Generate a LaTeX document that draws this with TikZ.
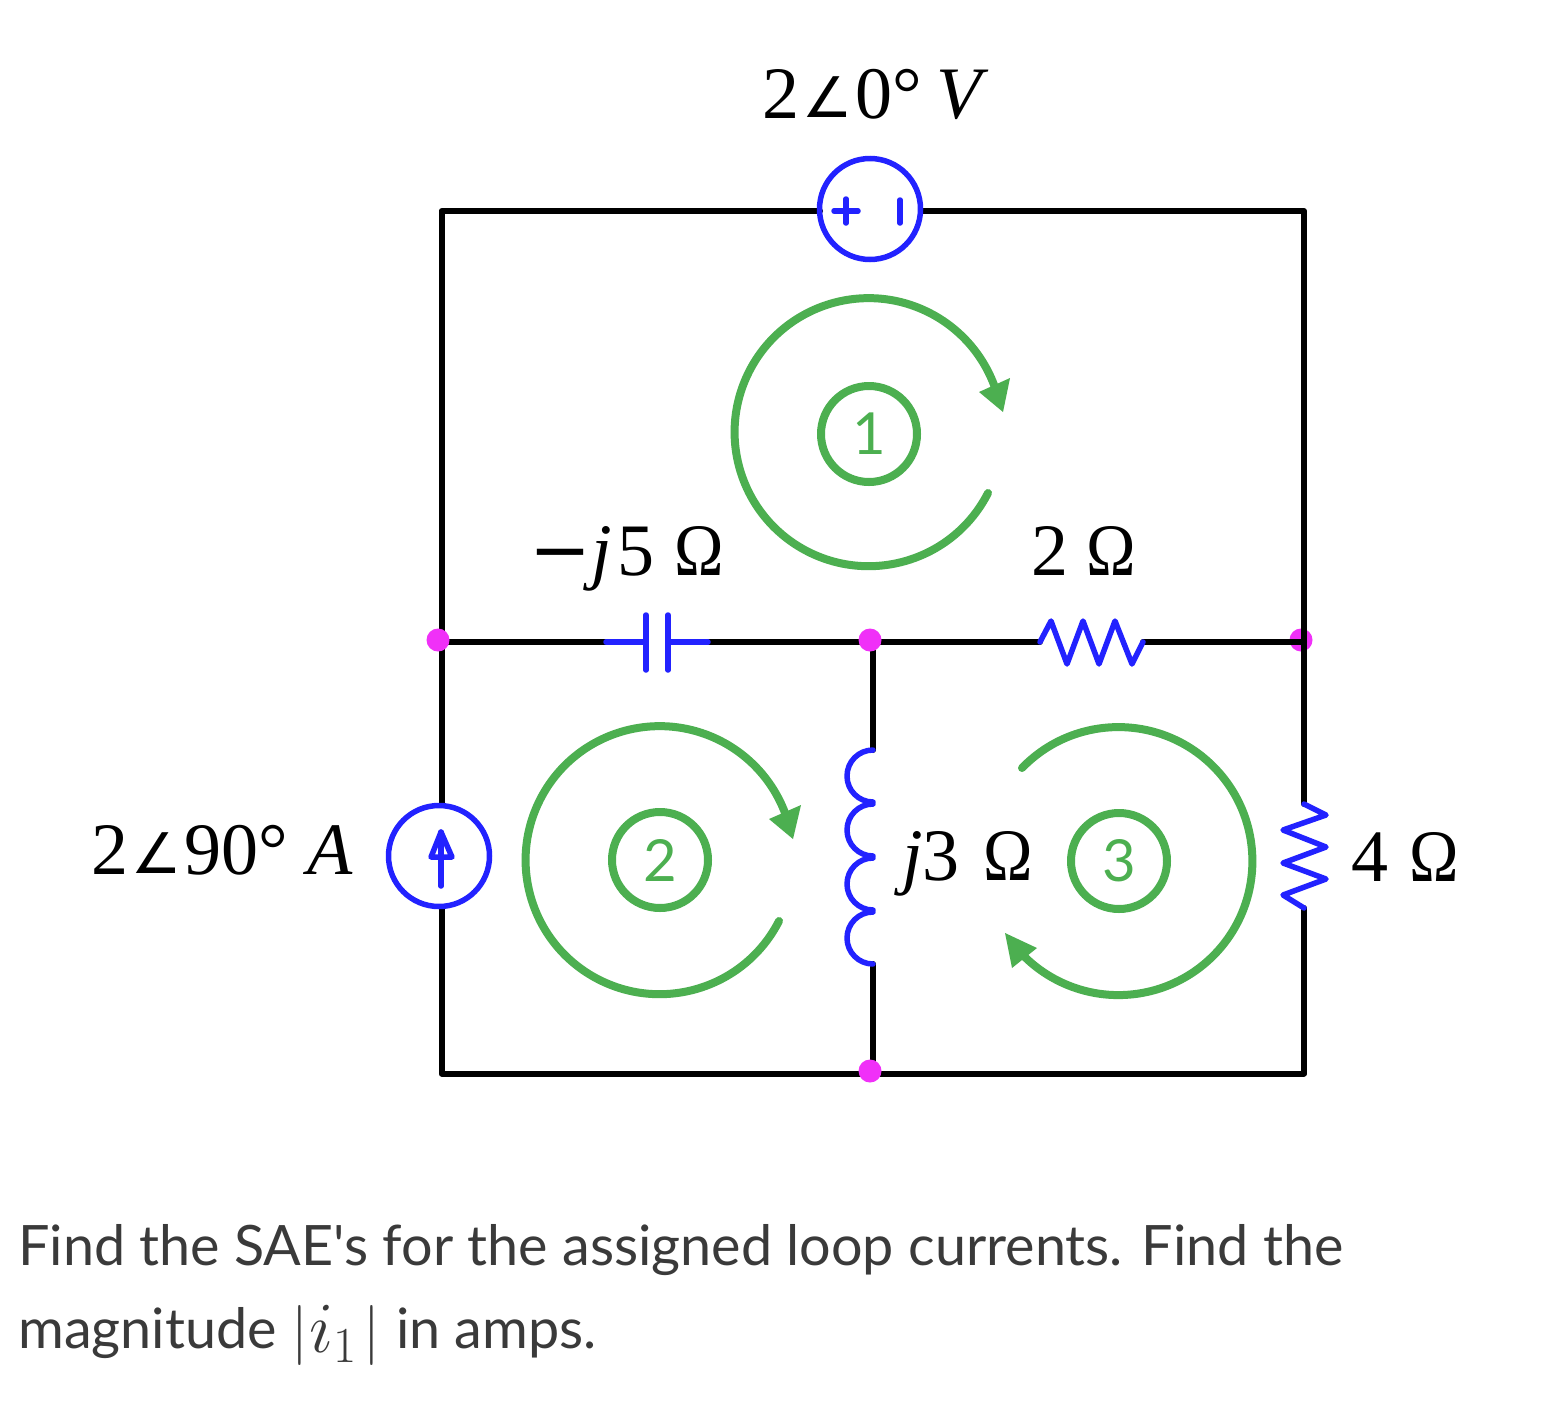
\RequirePackage{fix-cm}
\documentclass[tikz,border=0pt]{standalone}
\usepackage{graphicx}
\usepackage{fontspec}
\setmainfont{Lato}
\newfontfamily\plainlato{Lato}
\newfontfamily\lblfont{Liberation Serif}
\newfontfamily\angfont{DejaVu Sans}
\definecolor{wireblack}{HTML}{000000}
\definecolor{compblue}{HTML}{2222FF}
\definecolor{loopgreen}{HTML}{4CAF50}
\definecolor{dotmag}{HTML}{F030F8}
\definecolor{captext}{HTML}{3A3A3A}
\newcommand{\angsym}{\hspace{3pt}{\angfont\fontsize{56}{60}\selectfont\raisebox{1pt}{∠}}\hspace{3pt}}
\newcommand{\ohm}{\scalebox{0.9}[1]{\textup{Ω}}}
\newcommand{\minussym}{{\angfont −}}
\tikzset{
  wire/.style={draw=wireblack,line width=6pt,line cap=round,line join=round},
  comp/.style={draw=compblue,line width=5.5pt,line cap=round,line join=round},
  srccircle/.style={circle,draw=compblue,line width=5.5pt,minimum size=101pt,inner sep=0pt},
  loopline/.style={draw=loopgreen,line width=8pt,line cap=round},
  loophead/.style={fill=loopgreen,draw=none},
  loopnum/.style={circle,draw=loopgreen,line width=8pt,minimum size=96pt,inner sep=0pt,text=loopgreen,font=\fontsize{58}{60}\selectfont},
  junction/.style={circle,fill=dotmag,draw=none,minimum size=23pt,inner sep=0pt},
  valuelabel/.style={anchor=base west,inner sep=0pt,text=black,font=\lblfont\fontsize{74}{80}\selectfont},
  captionline/.style={anchor=base west,inner sep=0pt,text=captext,font=\plainlato\fontsize{55.7}{60}\selectfont},
  absbar/.style={anchor=base,inner sep=0pt,text=captext,font=\fontsize{60}{60}\selectfont},
  mathvar/.style={anchor=base west,inner sep=0pt,text=captext,font=\fontsize{72}{72}\selectfont}
}
\begin{document}
\begin{tikzpicture}[x=1pt,y=-1pt]
\useasboundingbox (0,0) rectangle (1565,1419);
\fill[white] (0,0) rectangle (1565,1419);

% corners and terminals
\coordinate (tl) at (441.5,211);
\coordinate (tr) at (1304,211);
\coordinate (bl) at (441.5,1073.5);
\coordinate (br) at (1304,1073.5);
\coordinate (bm) at (873,1073.5);
\coordinate (ml) at (441.5,642);
\coordinate (mm) at (873,642);
\coordinate (mr) at (1304,642);
\coordinate (vsl) at (820,211);
\coordinate (vsr) at (923,211);
\coordinate (csT) at (441.5,805);
\coordinate (csB) at (441.5,908);
\coordinate (capL) at (606,642);
\coordinate (capA) at (646,642);
\coordinate (capB) at (669,642);
\coordinate (capR) at (708,642);
\coordinate (rhL) at (1040,642);
\coordinate (rhR) at (1143,642);
\coordinate (indT) at (873,750);
\coordinate (indB) at (873,964);
\coordinate (rvT) at (1304,804);
\coordinate (rvB) at (1304,908);

\node[junction] (jr) at (1301,640) {};

% wires
\draw[wire] (vsl) -- (tl) -- (ml) -- (csT);
\draw[wire] (vsr) -- (tr) -- (mr) -- (rvT);
\draw[wire] (csB) -- (bl) -- (br) -- (rvB);
\draw[wire] (ml) -- (capL);
\draw[wire] (capR) -- (rhL);
\draw[wire] (rhR) -- (mr);
\draw[wire] (mm) -- (indT);
\draw[wire] (indB) -- (bm);

% sources
\node[srccircle] (vs) at (870,209) {};
\node[srccircle] (cs) at (439,856) {};
\coordinate (plusc) at (846,211);
\draw[comp] ([xshift=-12pt]plusc) -- ([xshift=12pt]plusc);
\draw[comp] ([yshift=-12pt]plusc) -- ([yshift=12pt]plusc);
\coordinate (minusT) at (900,200);
\coordinate (minusB) at (900,223);
\draw[comp] (minusT) -- (minusB);
\coordinate (arrowTip) at (441,832);
\coordinate (arrowA) at (431,857);
\coordinate (arrowB) at (452,857);
\coordinate (arrowTail) at (441,886);
\draw[comp] (arrowTail) -- (arrowTip);
\draw[comp] (arrowA) -- (arrowTip) -- (arrowB) -- cycle;

% capacitor
\draw[comp] (capL) -- (capA);
\draw[comp] (capB) -- (capR);
\draw[comp] (646,615) -- (646,670);
\draw[comp] (668,615) -- (668,670);

% horizontal resistor
\draw[comp] (rhL) -- (1051,621) -- (1067,664) -- (1083,621) -- (1099,664) -- (1115,621) -- (1132,664) -- (rhR);

% vertical resistor
\draw[comp] (rvT) -- (1326,815) -- (1283,830) -- (1326,847) -- (1283,863) -- (1326,879) -- (1283,895) -- (rvB);

% inductor
\draw[comp] (indT) arc[start angle=270,end angle=90,radius=26]
  ++(0,2) arc[start angle=270,end angle=90,radius=26]
  ++(0,2) arc[start angle=270,end angle=90,radius=26]
  ++(0,2) arc[start angle=270,end angle=90,radius=26];

% loops
\draw[loopline] (988,493) arc[start angle=27,end angle=342,radius=134];
\fill[loophead] (1003,412) -- (979,392) -- (1010,378) -- cycle;
\draw[loopline] (779,921) arc[start angle=27,end angle=342,radius=134];
\fill[loophead] (793,839) -- (769,819) -- (801,805) -- cycle;
\draw[loopline] (1022,768) arc[start angle=224,end angle=496,radius=134];
\fill[loophead] (1005,933) -- (1037,948) -- (1012,968) -- cycle;

\node[loopnum] (n1) at (869,434) {1};
\node[loopnum] (n2) at (660,860) {2};
\node[loopnum] (n3) at (1119,861) {3};

% junctions
\node[junction] (jl) at (438,640) {};
\node[junction] (jm) at (870,640) {};
\node[junction] (jb) at (870,1071) {};

% labels
\node[valuelabel] (lv) at (762,118) {2\angsym 0°\hspace{-4pt} \textit{V}};
\node[valuelabel] (lc) at (91,874) {2\angsym 90°\hspace{1pt} \textit{A}};
\node[valuelabel] (lcap) at (529,575) {\minussym\textit{j}\hspace{6pt}5\hspace{1pt} \ohm};
\node[valuelabel] (lr) at (1031,575) {2 \ohm};
\node[valuelabel] (ll) at (902,880) {\textit{j}3\hspace{5pt} \ohm};
\node[valuelabel] (lr2) at (1351,881) {4\hspace{3pt} \ohm};

% caption
\node[captionline] (c1) at (18,1265) {Find the SAE's for the assigned loop currents. Find the};
\node[captionline] (c2) at (18,1348) {magnitude};
\node[absbar] (barL) at (300,1350) {$|$};
\node[mathvar] (ivar) at (309,1352) {$i_1$};
\node[absbar] (barR) at (372,1350) {$|$};
\node[captionline] (c3) at (396,1348) {in amps.};
\end{tikzpicture}
\end{document}
